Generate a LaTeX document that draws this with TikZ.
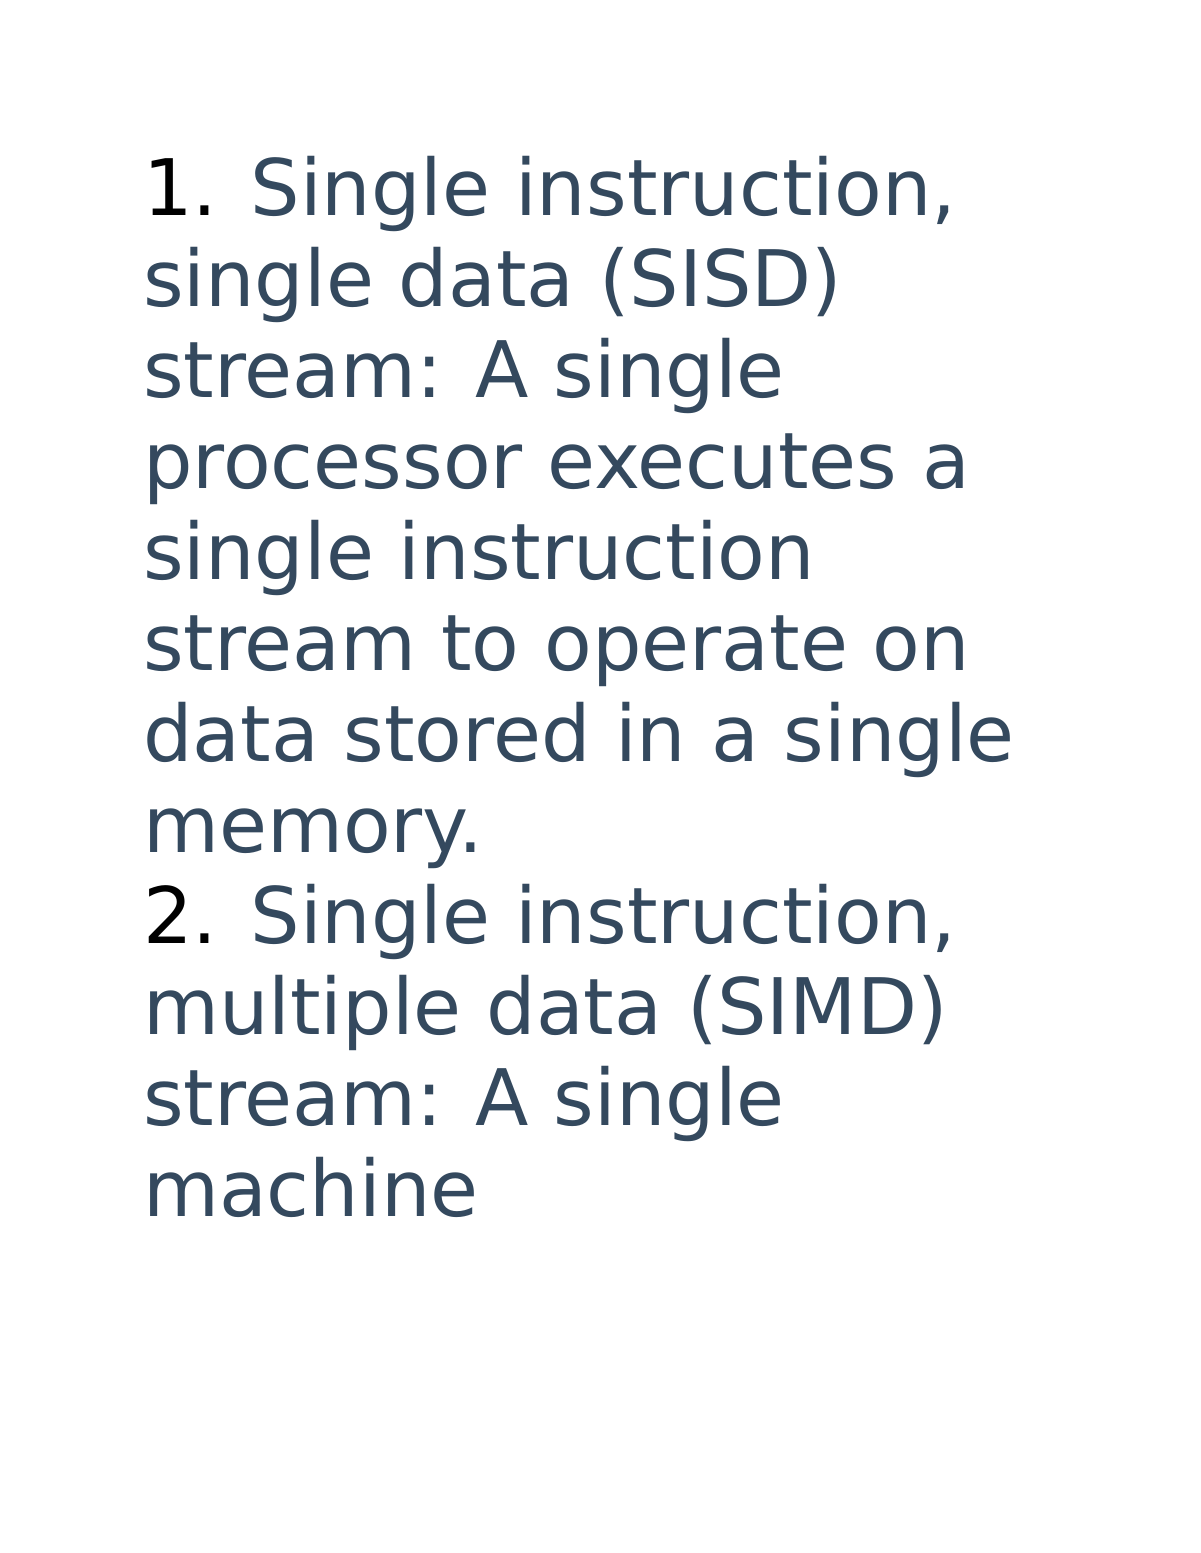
\documentclass[tikz,border=0pt]{standalone}
\usepackage{fontspec}
\setmainfont{DejaVu Sans}
\definecolor{txt}{HTML}{34495E}
\begin{document}
\begin{tikzpicture}[x=1pt,y=1pt,line/.style={anchor=base west,inner sep=0pt,font=\fontsize{78}{91}\selectfont,text=txt}]
\useasboundingbox (0,0) rectangle (1200,-1553);
\node[line] (l1) at (143,-215) {\textcolor{black}{1.} Single instruction,};
\node[line] (l2) at (143,-306) {single data (SISD)};
\node[line] (l3) at (143,-397) {stream: A single};
\node[line] (l4) at (143,-488) {processor executes a};
\node[line] (l5) at (143,-579) {single instruction};
\node[line] (l6) at (143,-670) {stream to operate on};
\node[line] (l7) at (143,-761) {data stored in a single};
\node[line] (l8) at (143,-852) {memory.};
\node[line] (l9) at (143,-943) {\textcolor{black}{2.} Single instruction,};
\node[line] (l10) at (143,-1034) {multiple data (SIMD)};
\node[line] (l11) at (143,-1125) {stream: A single};
\node[line] (l12) at (143,-1216) {machine};
\end{tikzpicture}
\end{document}
